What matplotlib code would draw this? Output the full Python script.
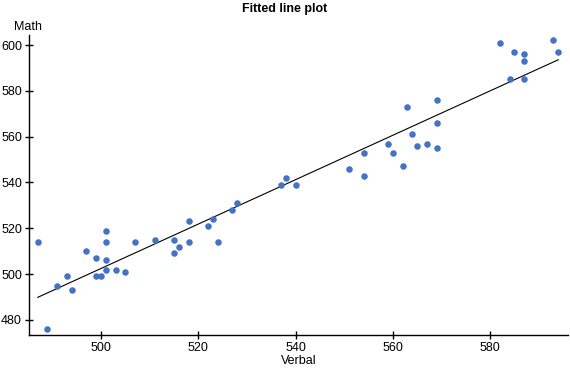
import numpy as np
import matplotlib
matplotlib.use("Agg")
import matplotlib.pyplot as plt

# Verbal / Math scores
verbal = [487, 489, 491, 493, 494, 497, 499, 499, 500, 501, 501, 501, 501,
          503, 505, 507, 511, 515, 515, 516, 518, 518,
          522, 523, 524, 527, 528, 537, 538, 540, 551, 554, 554, 559, 560,
          562, 563, 564, 565, 567, 569, 569, 569,
          582, 585, 587, 587, 584, 587, 593, 594]
math = [514, 476, 495, 499, 493, 510, 507, 499, 499, 519, 514, 506, 502,
        502, 501, 514, 515, 515, 509, 512, 523, 514,
        521, 524, 514, 528, 531, 539, 542, 539, 546, 553, 543, 557, 553,
        547, 573, 561, 556, 557, 576, 566, 555,
        601, 597, 596, 593, 585, 585, 602, 597]

x_ticks = [500, 520, 540, 560, 580]
y_ticks = [480, 500, 520, 540, 560, 580, 600]

plt.rcParams['font.family'] = ['Liberation Sans', 'DejaVu Sans']

fig = plt.figure(figsize=(5.7, 3.72), dpi=100)
ax = fig.add_axes([29 / 570, 37 / 372, 539 / 570, 300 / 372])

ax.scatter(verbal, math, s=22, color='#4472c4', zorder=3, linewidths=0)

# least squares fit over the data range
slope, icpt = np.polyfit(verbal, math, 1)
xs = np.array([min(verbal), max(verbal)])
ax.plot(xs, slope * xs + icpt, color='black', lw=0.8, zorder=2)

ax.set_xlim(485.2, 596)
ax.set_ylim(473.4, 604.4)
ax.set_xticks(x_ticks)
ax.set_yticks(y_ticks)
ax.tick_params(direction='inout', length=6, width=1, labelsize=9, pad=2)
for side in ('top', 'right'):
    ax.spines[side].set_visible(False)
for side in ('left', 'bottom'):
    ax.spines[side].set_linewidth(1)

ax.set_xlabel('Verbal', fontsize=9, labelpad=1)
fig.text(28 / 570, 1 - 27 / 372, 'Math', fontsize=9, ha='center', va='center')
fig.text(0.5, 1 - 9 / 372, 'Fitted line plot', fontsize=9, fontweight='bold',
         ha='center', va='center')

fig.savefig('out.png', dpi=100)
